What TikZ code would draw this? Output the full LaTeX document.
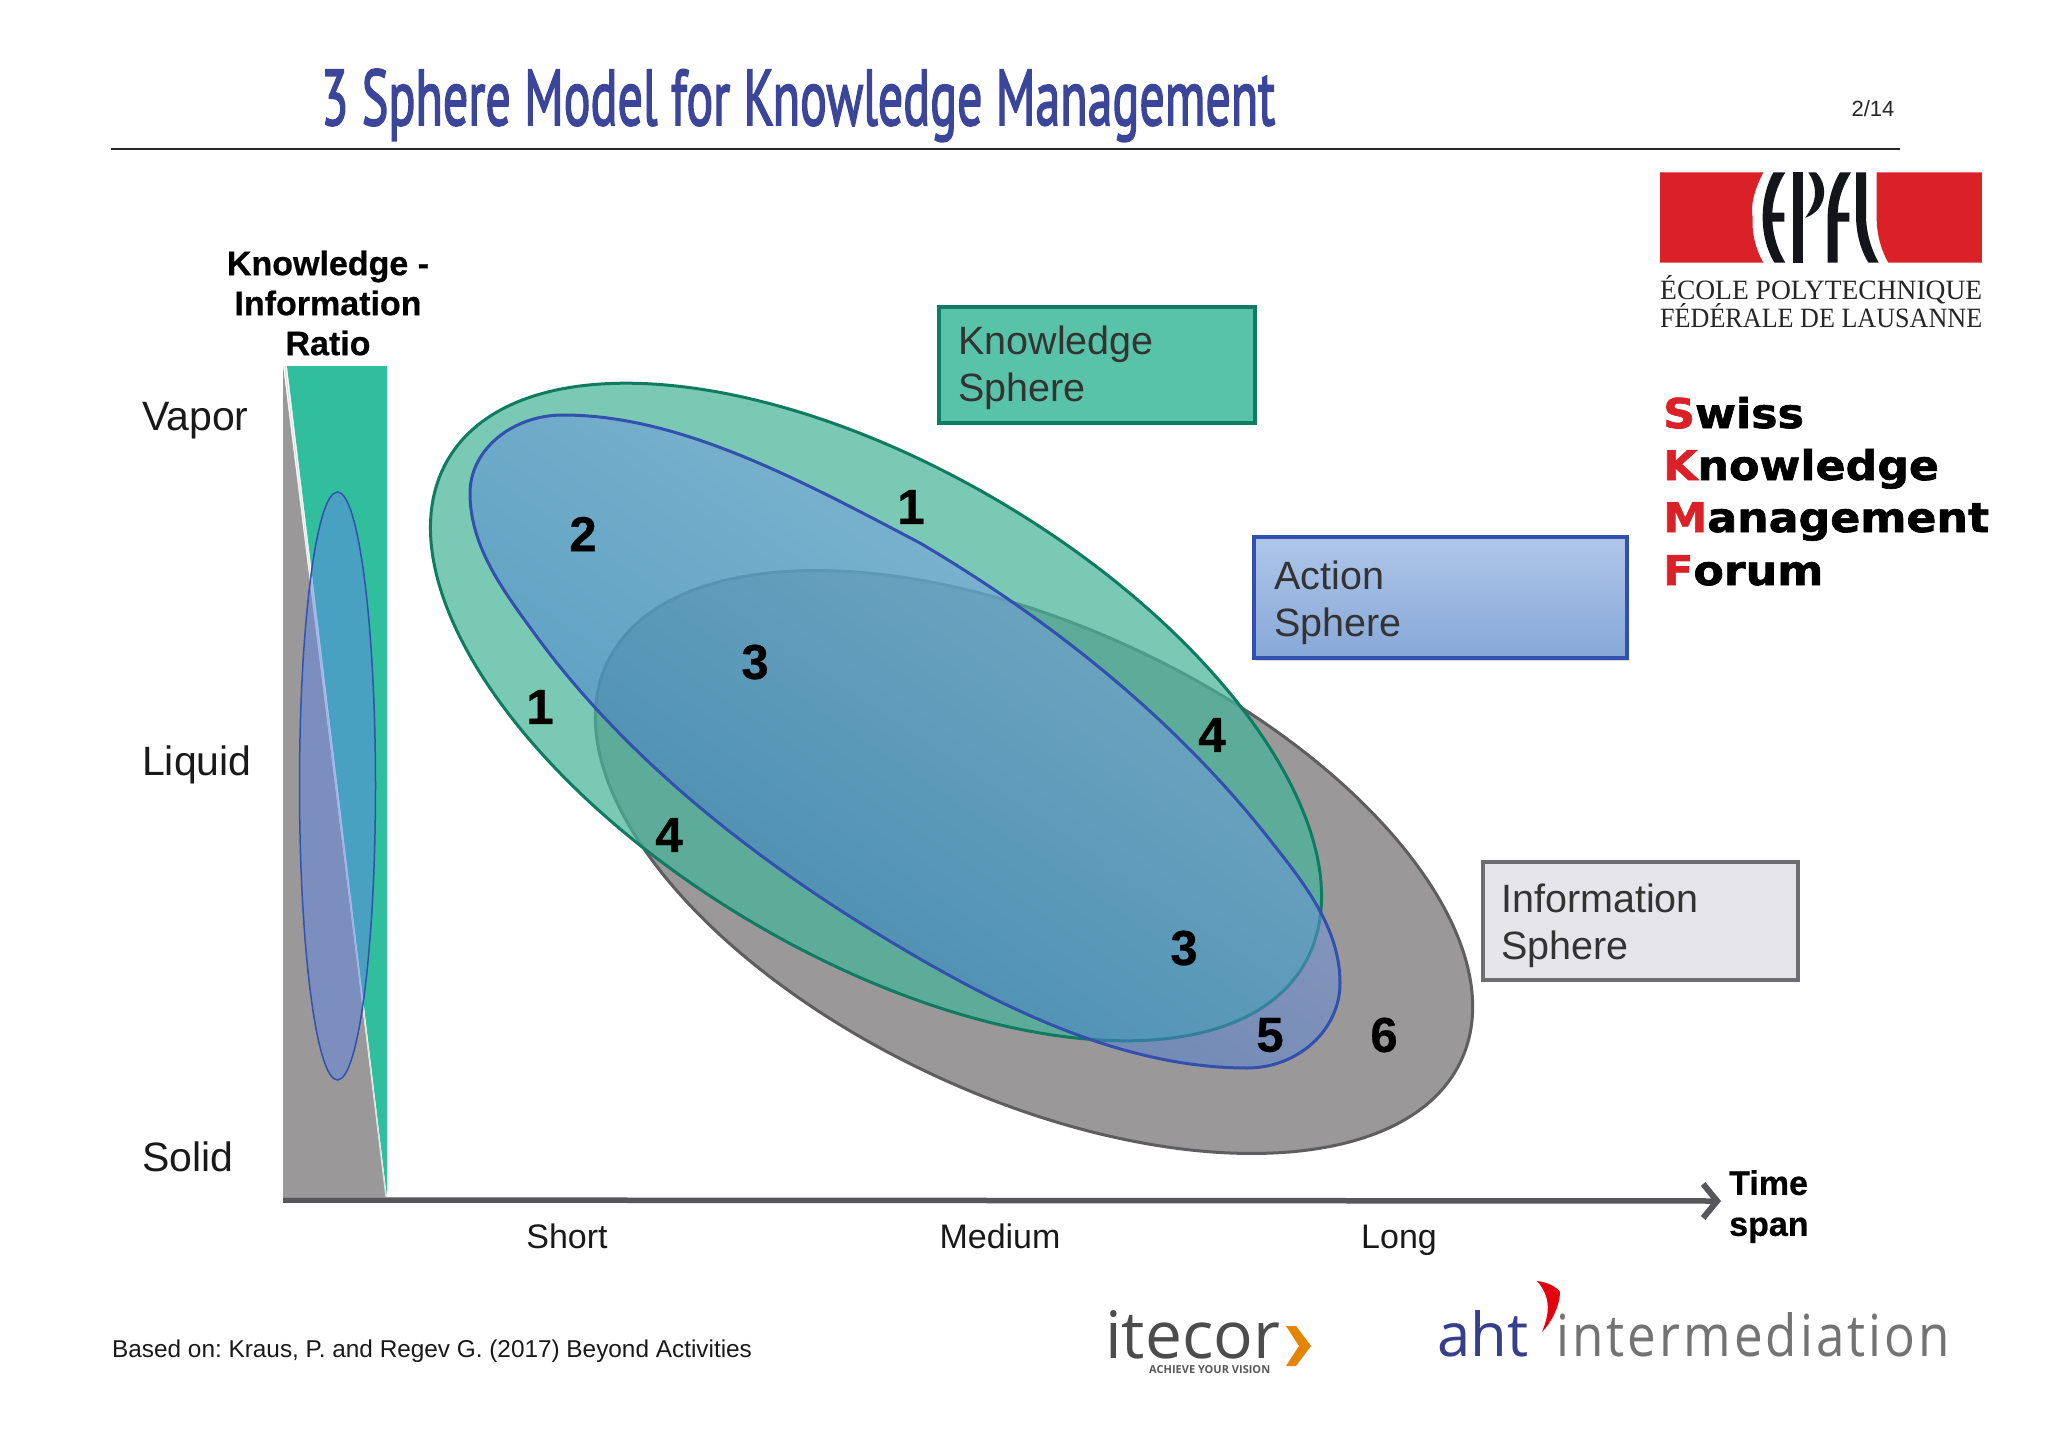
\documentclass[tikz,border=0pt]{standalone}
\usepackage{fontspec}
\setmainfont{Liberation Sans}[BoldFeatures={FakeBold=0.6}]
\frenchspacing
\newfontfamily\titlefont[FakeBold=2.5]{PT Sans}
\newfontfamily\logofont{Open Sans}
\newfontfamily\seriflogo{Liberation Serif}
\newfontfamily\widefont[FakeStretch=1.08,BoldFeatures={FakeBold=1.6,FakeStretch=1.08}]{DejaVu Sans}
\usetikzlibrary{shadows,arrows.meta}
\definecolor{titleblue}{HTML}{3B469B}
\definecolor{kgreen}{HTML}{46B599}
\definecolor{kbox}{HTML}{58C3A9}
\definecolor{kedge}{HTML}{0F7C61}
\definecolor{ablue}{HTML}{6086E4}
\definecolor{alight}{RGB}{145,172,242}
\definecolor{adark}{RGB}{45,105,195}
\definecolor{aboxt}{RGB}{175,198,232}
\definecolor{aboxb}{RGB}{135,168,216}
\definecolor{aedge}{HTML}{3450AE}
\definecolor{igray}{HTML}{9A9899}
\definecolor{iedge}{HTML}{5E5D60}
\definecolor{ibox}{HTML}{E5E5EA}
\definecolor{barGreen}{HTML}{30BE9C}
\definecolor{epflred}{HTML}{DA2128}
\definecolor{epflblack}{HTML}{141518}
\definecolor{axisgray}{HTML}{57565A}
\tikzset{
  x=1pt,y=-1pt,
  lab/.style={inner sep=0pt,anchor=base west,font=\fontsize{41}{41}\selectfont,text=black!90},
  tick/.style={inner sep=0pt,anchor=base,font=\fontsize{34}{34}\selectfont,text=black!90},
  num/.style={inner sep=0pt,font=\fontsize{49}{49}\selectfont\bfseries,text=black},
  skm/.style={inner sep=0pt,anchor=base west,font=\fontsize{41}{41}\selectfont\widefont\bfseries},
  sphbox/.style={inner sep=0pt,line width=3.5pt},
  sphlabel/.style={inner sep=0pt,anchor=north west,align=left,font=\fontsize{39.5}{47}\selectfont},
}
\newcommand{\rl}[1]{\textcolor{epflred}{#1}}
\begin{document}
\begin{tikzpicture}
\useasboundingbox (0,0) rectangle (2048,1447);
\fill[white] (0,0) rectangle (2048,1447);

% title and rule
\node[inner sep=0pt,anchor=base west,text=titleblue] (title) at (321,125)
  {\resizebox{954pt}{56pt}{\titlefont\fontsize{60}{60}\selectfont 3 Sphere Model for Knowledge Management}};
\coordinate (ruleL) at (111,149);
\coordinate (ruleR) at (1900,149);
\draw[line width=1.2pt,black!85] (ruleL) -- (ruleR);
\node[inner sep=0pt,font=\fontsize{22}{22}\selectfont,text=black!85] (page) at (1873,109) {2/14};

% left bar
\fill[igray] (283,366) -- (283,1197) -- (386,1197) -- cycle;
\fill[barGreen] (287,366) -- (387,366) -- (387,1197) -- cycle;
\draw[white!70!igray,line width=1.2pt] (285,366) -- (386,1197);
\draw[aedge,line width=1.5pt,fill=ablue,fill opacity=.5] (337.5,786) ellipse [x radius=38pt,y radius=294pt];

% spheres
\draw[iedge,line width=3pt,fill=igray,rotate around={-24.9:(1034,862)}] (1034,862) ellipse [x radius=471pt,y radius=235.5pt];
\draw[kedge,line width=3pt,fill=kgreen,fill opacity=.72,rotate around={-30.6:(876,712)}] (876,712) ellipse [x radius=497pt,y radius=244pt];
\draw[aedge,line width=3pt,top color=alight,bottom color=adark,shading angle=-34,fill opacity=.5]
  (563,415) .. controls (680,415) and (800,480) .. (920,543)
  .. controls (1052,621) and (1175,719) .. (1270,840)
  .. controls (1304,883) and (1340,928) .. (1340,983)
  .. controls (1340,1030) and (1298,1068) .. (1247,1068)
  .. controls (1122,1068) and (1000,1007) .. (893,943)
  .. controls (759,863) and (629,762) .. (537,637)
  .. controls (505,593) and (470,548) .. (470,493)
  .. controls (470,450) and (512,415) .. (563,415) -- cycle;

% legend boxes
\draw[kedge,sphbox,fill=kbox] (939,307) rectangle (1255,423);
\node[sphlabel,text=black!80] (kl) at (958,326) {Knowledge\\Sphere};
\draw[aedge,sphbox,top color=aboxt,bottom color=aboxb,drop shadow={shadow xshift=2pt,shadow yshift=-3pt,opacity=.3}] (1254,537) rectangle (1627,658);
\node[sphlabel,text=black!80] (al) at (1274,561) {Action\\Sphere};
\draw[iedge!90,sphbox,fill=ibox] (1483,862) rectangle (1798,980);
\node[sphlabel,text=black!80] (il) at (1501,884) {Information\\Sphere};

% numbers
\node[num] (n1a) at (911,507) {1};
\node[num] (n2)  at (583,534) {2};
\node[num] (n1b) at (540,707) {1};
\node[num] (n3a) at (755,662) {3};
\node[num] (n4a) at (1212,735) {4};
\node[num] (n4b) at (669,835) {4};
\node[num] (n3b) at (1184,948) {3};
\node[num] (n5)  at (1270,1035) {5};
\node[num] (n6)  at (1384,1035) {6};

% axis labels
\node[inner sep=0pt,align=center,font=\fontsize{34}{40}\selectfont\bfseries] (ratio) at (328,303) {Knowledge -\\Information\\Ratio};
\node[lab] (vapor) at (142,430) {Vapor};
\node[lab] (liquid) at (142,775) {Liquid};
\node[lab] (solid) at (142,1171) {Solid};
\coordinate (axL) at (283,1200);
\coordinate (axR) at (1721,1201);
\draw[axisgray,line width=5.5pt,-{Straight Barb[length=14pt,width=34pt,line width=6pt]}] (axL) -- (axR);
\node[tick] (short) at (567,1248) {Short};
\node[tick] (medium) at (1000,1248) {Medium};
\node[tick] (long) at (1399,1248) {Long};
\node[inner sep=0pt,anchor=north west,align=left,font=\fontsize{34}{41}\selectfont\bfseries] (time) at (1729,1170) {Time\\span};

\node[inner sep=0pt,anchor=base west,font=\fontsize{24.35}{24.35}\selectfont,text=black!90] (src) at (112,1357) {Based on: Kraus, P. and Regev G. (2017) Beyond Activities};

% EPFL logo
\begin{scope}[shift={(1740,165)},x=.3333pt,y=-.3333pt]
  \fill[epflred] (-240,22) -- (70,22) .. controls (45,70) and (30,120) .. (38,158) .. controls (35,200) and (45,250) .. (70,293) -- (-240,293) -- cycle;
  \fill[epflred] (410,22) -- (726,22) -- (726,293) -- (445,293) .. controls (425,260) and (410,210) .. (410,158) -- cycle;
  \fill[epflblack] (100,22) -- (136,22) .. controls (112,60) and (98,105) .. (97,143) -- (133,143) -- (133,170) -- (97,170) .. controls (100,215) and (115,260) .. (136,293) -- (103,293) .. controls (80,255) and (68,205) .. (68,158) .. controls (68,105) and (80,60) .. (100,22) -- cycle;
  \fill[epflblack] (160,22) rectangle (190,293);
  \fill[epflblack] (205,22) -- (228,22) .. controls (245,40) and (254,62) .. (252,88) .. controls (250,120) and (228,148) .. (196,158) .. controls (212,135) and (225,110) .. (225,85) .. controls (225,60) and (217,40) .. (205,22) -- cycle;
  \fill[epflblack] (300,22) -- (333,22) .. controls (310,60) and (295,100) .. (293,143) -- (328,143) -- (328,170) -- (293,170) -- (293,293) -- (263,293) -- (263,150) .. controls (265,100) and (280,55) .. (300,22) -- cycle;
  \fill[epflblack] (348,22) -- (378,22) -- (378,150) .. controls (378,205) and (395,255) .. (416,293) -- (385,293) .. controls (362,255) and (348,205) .. (348,150) -- cycle;
\end{scope}
\node[inner sep=0pt,anchor=base west,text=black!85] (epfl1) at (1660,299) {\resizebox{322pt}{24pt}{\seriflogo\fontsize{25}{25}\selectfont ÉCOLE POLYTECHNIQUE}};
\node[inner sep=0pt,anchor=base west,text=black!85] (epfl2) at (1660,327) {\resizebox{322pt}{24pt}{\seriflogo\fontsize{25}{25}\selectfont FÉDÉRALE DE LAUSANNE}};

% SKM
\node[skm] (sw) at (1663,428) {\rl{S}wiss};
\node[skm] (kn) at (1663,480) {\rl{K}nowledge};
\node[skm] (ma) at (1663,532) {\rl{M}anagement};
\node[skm] (fo) at (1663,585) {\rl{F}orum};

% itecor logo
\node[inner sep=0pt,anchor=base west,text=black!70] (itecor) at (1105,1358) {\resizebox{175pt}{48pt}{\logofont\fontsize{48}{48}\selectfont itecor}};
\fill[orange!85!yellow!90!black] (1286,1326) -- (1296,1326) -- (1311,1346) -- (1296,1366) -- (1286,1366) -- (1299,1346) -- cycle;
\node[inner sep=0pt,anchor=base west,text=black!65] (ach) at (1149,1373) {\resizebox{121pt}{!}{\logofont\bfseries\fontsize{9}{9}\selectfont ACHIEVE YOUR VISION}};

% aht logo
\node[inner sep=0pt,anchor=base west,text=titleblue!90!black] (aht) at (1437,1356) {\resizebox{91pt}{46pt}{\logofont\fontsize{46}{46}\selectfont aht}};
\fill[red!75!purple!95!black] (1537,1281) .. controls (1547,1282) and (1557,1287) .. (1560,1292) .. controls (1560,1305) and (1552,1322) .. (1542,1332) .. controls (1549,1315) and (1552,1298) .. (1537,1281) -- cycle;
\node[inner sep=0pt,anchor=base west,text=black!55] (inter) at (1556,1356) {\resizebox{394pt}{44pt}{\logofont\fontsize{46}{46}\selectfont\addfontfeatures{LetterSpace=6}intermediation}};
\end{tikzpicture}
\end{document}
